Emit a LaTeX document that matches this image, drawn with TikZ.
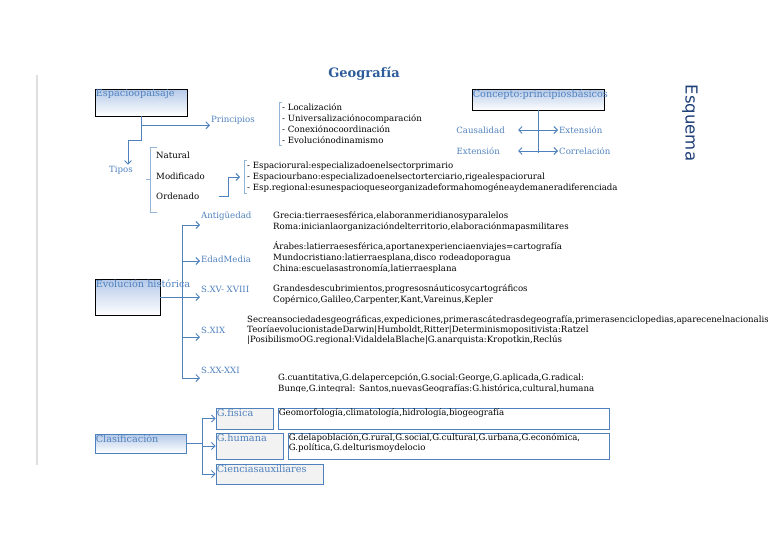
\documentclass[tikz,border=0pt]{standalone}
\usepackage{fontspec}
\setmainfont{DejaVu Serif}
\newfontfamily\esqfont{DejaVu Sans}
\usetikzlibrary{arrows.meta, positioning}
\definecolor{AccBlue}{HTML}{4F81BD}
\definecolor{TitleBlue}{HTML}{2F5D9B}
\definecolor{NavyText}{HTML}{1F3F77}
\definecolor{BoxTop}{HTML}{B4C9E8}
\definecolor{PanelGray}{HTML}{F2F2F2}

\begin{document}
\begin{tikzpicture}[x=1pt, y=-1pt,
    font=\fontsize{8.6}{11}\selectfont,
    txt/.style={inner sep=1pt, anchor=west, align=left},
    blk/.style={inner sep=1pt, anchor=north west, align=left},
    tag/.style={txt, text=AccBlue},
    headbox/.style={draw=black, line width=0.8pt, top color=BoxTop, bottom color=white, inner sep=0pt},
    grybox/.style={draw=AccBlue, line width=0.8pt, fill=PanelGray, inner sep=0pt},
    plainbox/.style={draw=AccBlue, line width=0.8pt, fill=white, inner sep=0pt},
    boxname/.style={inner sep=1pt, anchor=north west, text=AccBlue, font=\fontsize{9.7}{10}\selectfont},
    link/.style={draw=AccBlue, line width=0.9pt},
    arr/.style={link, -{Straight Barb[length=3.5pt, width=7pt]}},
    dbl/.style={link, {Straight Barb[length=3.5pt, width=7pt]}-{Straight Barb[length=3.5pt, width=7pt]}},
    brk/.style={draw=AccBlue!60, line width=0.8pt}]
    \useasboundingbox (0,0) rectangle (768,543);
    % Margin rule
    \draw[gray!25, line width=1.5pt] (37,75) -- (37,465);
    % Title
    \node[font=\bfseries\fontsize{13}{13}\selectfont, text=TitleBlue] (title) at (364,74) {Geografía};
    \node[rotate=-90, text=NavyText, font=\esqfont\fontsize{16.5}{16.5}\selectfont] (esq) at (690,123) {Esquema};

    % Espacio o paisaje
    \node[headbox, minimum width=92, minimum height=27] (esp) at (141,102.5) {};
    \node[boxname] (espT) at (esp.north west) {Espacioopaisaje};
    \node[tag] (prin) at (210,120) {Principios};
    \node[tag] (tipos) at (108,170) {Tipos};
    \draw[arr] (esp.south) |- (prin.south west);
    \draw[arr] (esp.south) -- ++(0,24) -| ([xshift=7]tipos.north);
    \node[blk, font=\fontsize{8.6}{11.3}\selectfont] (prinL) at (281,102) {- Localización\\- Universalizaciónocomparación\\- Conexiónocoordinación\\- Evoluciónodinamismo};
    \draw[brk] ([xshift=1]prinL.north west) -- ([xshift=-2]prinL.north west) -- ([xshift=-2]prinL.south west) -- ([xshift=1]prinL.south west);
    % Tipos
    \node[txt] (nat) at (155,155) {Natural};
    \node[txt] (mod) at (155,176) {Modificado};
    \node[txt] (ord) at (155,196) {Ordenado};
    \draw[brk] (157,147) -- (150,147) -- (150,212) -- (157,212);
    \draw[brk] (150,179) -- (146,179);
    \node[blk] (espL) at (246,160.5) {- Espaciorural:especializadoenelsectorprimario\\- Espaciourbano:especializadoenelsectorterciario,rigealespaciorural\\- Esp.regional:esunespacioqueseorganizadeformahomogéneaydemaneradiferenciada};
    \draw[brk] ([xshift=1]espL.north west) -- ([xshift=-2]espL.north west) -- ([xshift=-2]espL.south west) -- ([xshift=1]espL.south west);
    \coordinate (rurIn) at (240,177);
    \draw[arr] ([xshift=18]ord.east) -- ++(10,0) |- (rurIn);

    % Concepto
    \node[headbox, minimum width=132, minimum height=21] (conc) at (538,99.5) {};
    \node[boxname] (concT) at (conc.north west) {Concepto:principiosbásicos};
    \node[tag, anchor=east] (caus) at (506,130) {Causalidad};
    \node[tag] (ext1) at (558,130) {Extensión};
    \node[tag, anchor=east] (ext2) at (501,151) {Extensión};
    \node[tag] (corr) at (558,151) {Correlación};
    \coordinate (concEnd) at (538,153);
    \draw[link] (conc.south) -- (concEnd);
    \draw[dbl] ([xshift=-40]ext1.west) -- (ext1.west);
    \draw[dbl] ([xshift=-40]corr.west) -- (corr.west);

    % Evolucion historica
    \node[headbox, minimum width=65, minimum height=36] (evo) at (127.5,297) {};
    \node[boxname] (evoT) at (evo.north west) {Evolución histórica};
    \node[tag] (ant) at (200,216) {Antigüedad};
    \node[tag] (edm) at (200,259) {EdadMedia};
    \node[tag] (sxv) at (200,289) {S.XV- XVIII};
    \node[tag] (sxix) at (200,330) {S.XIX};
    \node[tag] (sxx) at (200,370) {S.XX-XXI};
    \coordinate (evoTr) at (182,0);
    \coordinate (aAnt) at ([yshift=-9]ant.west);
    \coordinate (aEdm) at ([yshift=-2]edm.west);
    \coordinate (aSxv) at ([yshift=-8]sxv.west);
    \coordinate (aSxix) at ([yshift=-7]sxix.west);
    \coordinate (aSxx) at ([yshift=-8]sxx.west);
    \draw[link] (aAnt -| evoTr) -- (aSxx -| evoTr);
    \draw[arr] (aAnt -| evoTr) -- (aAnt);
    \draw[arr] (aEdm -| evoTr) -- (aEdm);
    \draw[arr] (evo.east) -- (aSxv);
    \draw[arr] (aSxix -| evoTr) -- (aSxix);
    \draw[arr] (aSxx -| evoTr) -- (aSxx);
    \node[blk] (antT) at (272,210.5) {Grecia:tierraesesférica,elaboranmeridianosyparalelos\\Roma:inicianlaorganizacióndelterritorio,elaboraciónmapasmilitares};
    \node[blk] (edmT) at (272,240.5) {Árabes:latierraesesférica,aportanexperienciaenviajes=cartografía\\Mundocristiano:latierraesplana,disco rodeadoporagua\\China:escuelasastronomía,latierraesplana};
    \node[blk, font=\fontsize{8.6}{10.5}\selectfont] (sxvT) at (272,283.5) {Grandesdescubrimientos,progresosnáuticosycartográficos\\Copérnico,Galileo,Carpenter,Kant,Vareinus,Kepler};
    \node[blk, font=\fontsize{8.6}{10}\selectfont] (sxixT) at (246,314.5) {Secreansociedadesgeográficas,expediciones,primerascátedrasdegeografía,primerasenciclopedias,aparecenelnacionalismo\\TeoríaevolucionistadeDarwin|Humboldt,Ritter|Determinismopositivista:Ratzel\\|PosibilismoOG.regional:VidaldelaBlache|G.anarquista:Kropotkin,Reclús};
    \begin{scope}
        \clip (250,365) rectangle (768,391);
        \node[blk] (sxxT) at (277,372.5) {G.cuantitativa,G.delapercepción,G.social:George,G.aplicada,G.radical:\\Bunge,G.integral: Santos,nuevasGeografías:G.histórica,cultural,humana};
    \end{scope}

    % Clasificacion
    \node[headbox, draw=AccBlue, minimum width=91, minimum height=19] (clas) at (140.5,443.5) {};
    \node[boxname] (clasT) at (clas.north west) {Clasificación};
    \node[grybox, minimum width=57, minimum height=21] (fis) at (244.5,418.5) {};
    \node[boxname] (fisT) at (fis.north west) {G.física};
    \node[plainbox, minimum width=331, minimum height=21] (fisD) at (443.5,418.5) {};
    \node[blk] (fisDT) at (fisD.north west) {Geomorfología,climatología,hidrología,biogeografía};
    \node[grybox, minimum width=67, minimum height=26] (hum) at (249.5,446) {};
    \node[boxname] (humT) at (hum.north west) {G.humana};
    \node[plainbox, minimum width=321, minimum height=26] (humD) at (448.5,446) {};
    \node[blk, font=\fontsize{8.6}{10}\selectfont] (humDT) at (humD.north west) {G.delapoblación,G.rural,G.social,G.cultural,G.urbana,G.económica,\\G.política,G.delturismoydelocio};
    \node[grybox, minimum width=107, minimum height=20] (aux) at (269.5,474) {};
    \node[boxname] (auxT) at (aux.north west) {Cienciasauxiliares};
    \coordinate (clasTr) at (202,0);
    \draw[link] (clas.east) -- (clas.east -| clasTr);
    \draw[link] (fis.west -| clasTr) -- (aux.west -| clasTr);
    \draw[arr] (fis.west -| clasTr) -- (fis.west);
    \draw[arr] (hum.west -| clasTr) -- (hum.west);
    \draw[arr] (aux.west -| clasTr) -- (aux.west);
\end{tikzpicture}
\end{document}
